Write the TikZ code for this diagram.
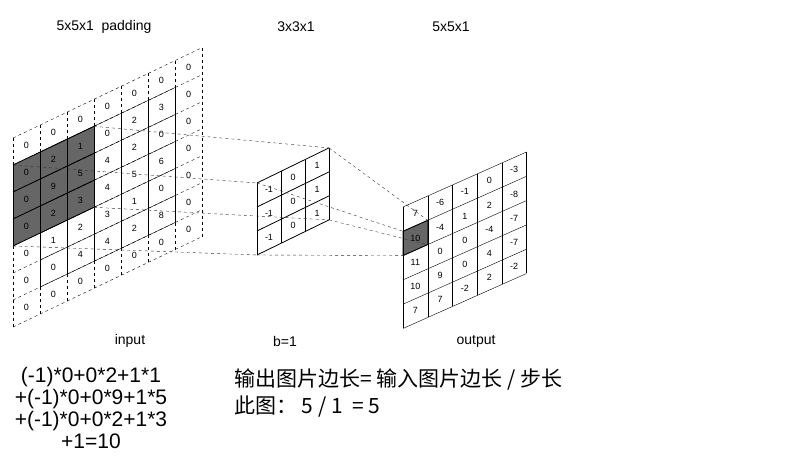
\documentclass[tikz,border=0pt]{standalone}
\usepackage{fontspec}
\setmainfont{Liberation Sans}
\newfontfamily\cjk{Noto Sans CJK SC}
\newcommand{\skgrid}[5][]{% [style] x0 y0 x1 y1
  \foreach \i in {#2,...,#4}{\draw[#1] (\i,#3) -- (\i,#5);}
  \foreach \j in {#3,...,#5}{\draw[#1] (#2,\j) -- (#4,\j);}}
\begin{document}
\begin{tikzpicture}[x=1pt,y=1pt,
  num/.style={font=\fontsize{9}{9}\selectfont, inner sep=0pt},
  lbl/.style={font=\fontsize{14}{16}\selectfont, inner sep=0pt},
  conn/.style={dashed, black!80},
  cellfill/.style={fill=black!60}]
\useasboundingbox (0,0) rectangle (800,460);
% input grid
\begin{scope}[shift={(13,322)}, x={(27pt,12.9pt)}, y={(0pt,-27pt)}]
  \fill[cellfill] (0,1) -- (3,1) -- (3,4) -- (0,4) -- cycle;
  \skgrid[dashed]{0}{0}{7}{7}
  \skgrid{1}{1}{6}{6}
  \skgrid[thick]{0}{1}{3}{4}
  \foreach \c/\col in {0/{0,0,0,0,0,0,0},1/{0,2,9,2,1,0,0},2/{0,1,5,3,2,4,0},3/{0,0,4,4,3,4,0},4/{0,2,2,5,1,2,0},5/{0,3,0,6,0,8,0},6/{0,0,0,0,0,0,0}}{
    \foreach \v [count=\r from 0] in \col { \node[num] (in\c\r) at (\c+.5,\r+.5) {\v}; } }
  \coordinate (intl) at (0,1); \coordinate (intr) at (3,1);
  \coordinate (inbl) at (0,4); \coordinate (inbr) at (3,4);
\end{scope}
% kernel
\begin{scope}[shift={(257,277)}, x={(24pt,11.7pt)}, y={(0pt,-24pt)}]
  \skgrid[thick]{0}{0}{3}{3}
  \foreach \c/\v in {0/-1,1/0,2/1}{ \foreach \r in {0,1,2}{ \node[num] (k\c\r) at (\c+.5,\r+.5) {\v}; } }
  \coordinate (ktl) at (0,0); \coordinate (ktr) at (3,0);
  \coordinate (kbl) at (0,3); \coordinate (kbr) at (3,3);
\end{scope}
% output
\begin{scope}[shift={(403,253)}, x={(24.7pt,11pt)}, y={(0pt,-24.3pt)}]
  \fill[cellfill] (0,1) -- (1,1) -- (1,2) -- (0,2) -- cycle;
  \skgrid{0}{0}{5}{5}
  \draw[thick] (0,1) -- (1,1) -- (1,2) -- (0,2) -- cycle;
  \foreach \c/\col in {0/{7,10,11,10,7},1/{-6,-4,0,9,7},2/{-1,1,0,0,-2},3/{0,2,-4,4,2},4/{-3,-8,-7,-7,-2}}{
    \foreach \v [count=\r from 0] in \col { \node[num] (o\c\r) at (\c+.5,\r+.5) {\v}; } }
  \coordinate (otl) at (0,1); \coordinate (otr) at (1,1);
  \coordinate (obl) at (0,2); \coordinate (obr) at (1,2);
\end{scope}
% connectors
\draw[conn] (intr) -- (ktr);
\draw[conn] (intl) -- (ktl);
\draw[conn] (inbr) -- (kbr);
\draw[conn] (inbl) -- (kbl);
\draw[conn] (ktr) -- (otr);
\draw[conn] (ktl) -- (otl);
\draw[conn] (kbr) -- (obr);
\draw[conn] (kbl) -- (obl);
% labels
\node[lbl] (t1) at (104,433) {5x5x1\ \ padding};
\node[lbl] (t2) at (296,433) {3x3x1};
\node[lbl] (t3) at (451,433) {5x5x1};
\node[lbl] (l1) at (130,119) {input};
\node[lbl] (l2) at (285,119) {b=1};
\node[lbl] (l3) at (476,119) {output};
\node[align=center, inner sep=0pt, font=\fontsize{21}{22}\selectfont] (f) at (91,52) {(-1)*0+0*2+1*1\\+(-1)*0+0*9+1*5\\+(-1)*0+0*2+1*3\\+1=10};
\node[anchor=west, align=left, inner sep=0pt, font=\fontsize{21}{27}\selectfont\cjk] (c) at (234,67) {输出图片边长=\ 输入图片边长\ /\ 步长\\此图：\ 5\ /\ 1\ \ =\ 5};
\end{tikzpicture}
\end{document}
